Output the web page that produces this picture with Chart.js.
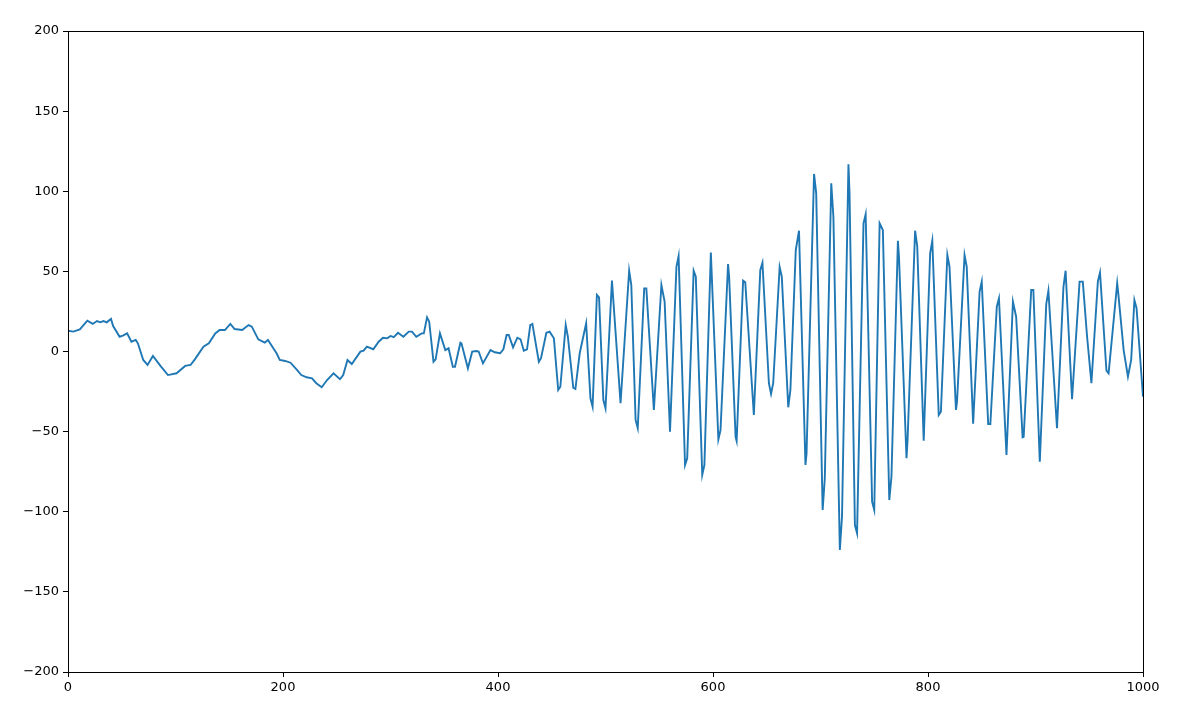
<!DOCTYPE html>
<html>
<head>
<meta charset="utf-8">
<script src="https://cdn.jsdelivr.net/npm/chart.js@4"></script>
<style>
  html, body { margin: 0; padding: 0; background: #fff; }
  #canvas-signal { display: block; }
</style>
</head>
<body>
<canvas id="canvas-signal" width="1200" height="727"></canvas>
<script>
// values (x, y pairs at turning points)
const xValues = [0, 5, 11, 18, 23, 27, 30, 33, 36, 40, 42, 48, 51, 55, 59, 63, 65, 70, 74, 79, 86, 93, 101, 109, 114, 118, 126, 131, 137, 141, 146, 151, 155, 162, 168, 171, 177, 183, 186, 191, 194, 197, 202, 207, 213, 217, 222, 227, 231, 236, 241, 247, 253, 256, 260, 264, 272, 275, 278, 284, 289, 293, 297, 300, 303, 307, 312, 317, 320, 324, 329, 331, 334, 336, 340, 342, 346, 351, 354, 358, 360, 365, 366, 372, 376, 380, 382, 386, 393, 397, 402, 405, 408, 410, 414, 418, 421, 424, 427, 430, 432, 438, 440, 445, 448, 452, 456, 458, 463, 465, 470, 472, 476, 482, 486, 488, 492, 494, 498, 500, 506, 514, 522, 524, 528, 530, 536, 538, 545, 552, 555, 560, 566, 568, 574, 576, 582, 584, 590, 592, 598, 605, 607, 614, 615, 621, 622, 628, 630, 638, 644, 646, 652, 654, 656, 662, 664, 670, 672, 677, 680, 686, 687, 694, 696, 702, 704, 710, 712, 718, 720, 726, 727, 732, 734, 740, 742, 748, 750, 755, 758, 764, 766, 772, 773, 780, 781, 788, 790, 796, 802, 804, 810, 812, 818, 820, 826, 827, 834, 836, 842, 848, 850, 856, 858, 864, 866, 873, 879, 882, 888, 889, 896, 898, 904, 910, 912, 920, 926, 928, 934, 941, 944, 948, 952, 958, 960, 966, 968, 976, 977, 982, 986, 989, 992, 994, 1000];
const yValues = [13, 12.4, 13.8, 19.2, 17.2, 19, 18.2, 19, 18.2, 20.3, 15.9, 9.2, 9.9, 11.3, 6.1, 7.2, 5.1, -5.3, -8.4, -2.8, -9, -14.7, -13.6, -9, -8.4, -4.9, 3, 5.1, 11.3, 13.4, 13.4, 17.2, 14, 13.4, 16.5, 15.5, 7.6, 5.5, 7.2, 2, -1.1, -5.3, -5.9, -7, -11.5, -14.7, -16.1, -16.7, -19.8, -22.3, -17.8, -13.6, -17.3, -14.7, -5.3, -7.8, -0.1, 0.5, 3, 1.4, 6.1, 8.6, 8.2, 9.7, 8.9, 11.7, 9.2, 12.4, 12.4, 9.2, 11.3, 11.3, 21.3, 18.6, -6.4, -4.9, 11.3, 0.9, 2, -9.5, -9.5, 5.5, 5.1, -10.5, -0.1, 0.3, 0, -7.4, 0.9, -0.5, -1.1, 1.4, 10.3, 10.3, 2.6, 8.6, 7.6, 0.5, 1.4, 16.5, 17.2, -6.4, -4.2, 11.7, 12.4, 8.2, -24, -22, 16.5, 9.2, -22.6, -23.4, -1.1, 17.6, -29.2, -34.4, 35.3, 33.8, -30.3, -35.4, 44.2, -32.3, 50.4, 41.5, -42.7, -47.9, 39.4, 39.4, -36.5, 41.5, 31.1, -50, 53, 59.6, -70.8, -66.7, 50.4, 46.7, -77, -70.8, 61.7, -54.8, -49, 54.6, 46.7, -53.2, -55.8, 44.2, 43.2, -39.6, 50.9, 55.4, -19.8, -26.5, -19.8, 52.7, 46.7, -34.8, -24, 63.3, 75.4, -70.8, -64, 110.8, 98.7, -98.9, -79.1, 105, 84.1, -123.9, -103.1, 116.8, 98.7, -108.3, -113.4, 80, 85.6, -93.7, -98.9, 80, 75.8, -92.7, -78.1, 69.1, 59.2, -66.6, -55.2, 75.4, 65.4, -55.7, 61.3, 69.1, -39.6, -37.6, 60.2, 52.9, -36.5, -31.3, 60.2, 52.9, -45, 37.3, 43.6, -45.2, -45.2, 28, 33.2, -64.6, 31.1, 21.7, -53.5, -53.2, 38.4, 38.4, -68.8, 29.6, 37.9, -47.9, 40.4, 50.4, -29.8, 43.6, 43.6, 9.2, -19.8, 43.6, 49.2, -12, -13.6, 42.6, 36.3, 0.9, -15.7, -5.3, 32.1, 27, -28.2];
const xTicks = [0, 200, 400, 600, 800, 1000];
const yTicks = [-200, -150, -100, -50, 0, 50, 100, 150, 200];

const canvas = document.getElementById('canvas-signal');
var ctx = canvas.getContext('2d');

const points = xValues.map((x, i) => ({ x: x, y: yValues[i] }));

// matplotlib uses a real minus sign
function minusLabel(value) {
    return String(value).replace('-', '\u2212');
}

// box round the plot area, like the axes frame
const frameBox = {
    id: 'frameBox',
    afterDraw(chart) {
        const a = chart.chartArea;
        const c = chart.ctx;
        c.save();
        c.strokeStyle = '#000';
        c.lineWidth = 1;
        c.strokeRect(Math.round(a.left) + 0.5, Math.round(a.top) + 0.5,
                     Math.round(a.right - a.left), Math.round(a.bottom - a.top));
        c.restore();
    }
};

const tickFont = { family: 'DejaVu Sans', size: 13 };

new Chart(ctx, {
    type: 'line',
    data: {
        datasets: [{
            data: points,
            borderColor: '#1f77b4',
            borderWidth: 1.9,
            pointRadius: 0,
            tension: 0,
            fill: false
        }]
    },
    options: {
        responsive: false,
        animation: false,
        layout: { padding: { left: 0, right: 57, top: 31, bottom: 0 } },
        plugins: {
            legend: { display: false },
            tooltip: { enabled: false }
        },
        scales: {
            x: {
                type: 'linear',
                min: 0,
                max: 1000,
                afterBuildTicks: (scale) => { scale.ticks = xTicks.map(v => ({ value: v })); },
                afterFit: (scale) => { scale.height = 55; },
                grid: { drawOnChartArea: false, drawTicks: true, tickLength: 5, color: '#000' },
                border: { display: false },
                ticks: { color: '#000', font: tickFont, padding: 3, maxRotation: 0, callback: minusLabel }
            },
            y: {
                type: 'linear',
                min: -200,
                max: 200,
                afterBuildTicks: (scale) => { scale.ticks = yTicks.map(v => ({ value: v })); },
                afterFit: (scale) => { scale.width = 68; },
                grid: { drawOnChartArea: false, drawTicks: true, tickLength: 5, color: '#000' },
                border: { display: false },
                ticks: { color: '#000', font: tickFont, padding: 4, callback: minusLabel }
            }
        }
    },
    plugins: [frameBox]
});
</script>
</body>
</html>
